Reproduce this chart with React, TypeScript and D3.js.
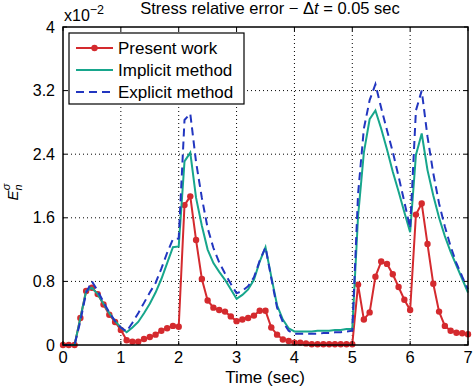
import * as d3 from "d3";

// sample times (sec)
const time = [
  0, 0.1, 0.2, 0.3, 0.4, 0.5, 0.6, 0.7, 0.8, 0.9,
  1, 1.1, 1.2, 1.3, 1.4, 1.5, 1.6, 1.7, 1.8, 1.9,
  2, 2.1, 2.2, 2.3, 2.4, 2.5, 2.6, 2.7, 2.8, 2.9,
  3, 3.1, 3.2, 3.3, 3.4, 3.5, 3.6, 3.7, 3.8, 3.9,
  4, 4.1, 4.2, 4.3, 4.4, 4.5, 4.6, 4.7, 4.8, 4.9,
  5, 5.1, 5.2, 5.3, 5.4, 5.5, 5.6, 5.7, 5.8, 5.9,
  6, 6.1, 6.2, 6.3, 6.4, 6.5, 6.6, 6.7, 6.8, 6.9,
  7,
];

// values in units of 1e-2
const presentWork = [
  0, 0, 0, 0.34, 0.68, 0.72, 0.64, 0.51, 0.38, 0.29,
  0.19, 0.06, 0.04, 0.04, 0.075, 0.1, 0.13, 0.18, 0.21, 0.24,
  0.23, 1.76, 1.87, 1.32, 0.83, 0.56, 0.47, 0.44, 0.42, 0.36,
  0.3, 0.32, 0.34, 0.37, 0.43, 0.43, 0.22, 0.13, 0.07, 0.05,
  0.03, 0.03, 0.02, 0.01, 0.01, 0.01, 0.01, 0.01, 0.01, 0.01,
  0.01, 0.76, 0.32, 0.41, 0.86, 1.05, 1.02, 0.89, 0.73, 0.57,
  0.44, 1.64, 1.78, 1.27, 0.77, 0.42, 0.24, 0.18, 0.155, 0.147,
  0.135,
];

const implicitMethod = [
  0, 0, 0, 0.34, 0.68, 0.72, 0.64, 0.52, 0.4, 0.3,
  0.22, 0.16, 0.22, 0.29, 0.4, 0.52, 0.66, 0.83, 1.03, 1.23,
  1.24, 2.31, 2.42, 1.85, 1.5, 1.2, 1.03, 0.92, 0.82, 0.7,
  0.58, 0.63, 0.7, 0.82, 1.05, 1.23, 0.86, 0.5, 0.32, 0.21,
  0.17, 0.17, 0.17, 0.17, 0.18, 0.18, 0.18, 0.19, 0.19, 0.2,
  0.2, 1.62, 2.42, 2.84, 2.95, 2.72, 2.46, 2.18, 1.93, 1.67,
  1.42, 2.39, 2.66, 2.2, 1.88, 1.6, 1.37, 1.17, 1.0, 0.83,
  0.66,
];

const explicitMethod = [
  0, 0, 0, 0.3, 0.66, 0.8, 0.68, 0.54, 0.41, 0.3,
  0.22, 0.17, 0.28, 0.4, 0.53, 0.66, 0.78, 0.96, 1.16, 1.33,
  1.34, 2.83, 2.91, 2.3, 1.85, 1.47, 1.22, 1.04, 0.9, 0.77,
  0.65, 0.68, 0.74, 0.85, 1.06, 1.23, 0.84, 0.47, 0.29, 0.18,
  0.14, 0.14, 0.14, 0.14, 0.14, 0.15, 0.15, 0.16, 0.16, 0.17,
  0.18, 1.9, 2.72, 3.08, 3.28, 2.98, 2.7, 2.43, 2.12, 1.8,
  1.47, 2.95, 3.2, 2.62, 2.16, 1.78, 1.49, 1.24, 1.03, 0.86,
  0.7,
];

const xTicks = [0, 1, 2, 3, 4, 5, 6, 7];
const yTicks = [0, 0.8, 1.6, 2.4, 3.2, 4];
const yTickLabels = ["0", "0.8", "1.6", "2.4", "3.2", "4"];
const legendLabels = ["Present work", "Implicit method", "Explicit method"];

const W = 474;
const H = 388;
const font = "'Liberation Sans', Arial, sans-serif";
const colors = { red: "#d42a2e", teal: "#17a68c", blue: "#2236c0" };

export default function App() {
  const left = 63, right = 468, top = 27, bottom = 345;

  const x = d3.scaleLinear().domain([0, 7]).range([left, right]);
  const y = d3.scaleLinear().domain([0, 4]).range([bottom, top]);

  const line = (vals: number[]) =>
    d3.line<number>()
      .x((_, i) => x(time[i]))
      .y((d) => y(d))(vals) as string;

  const tick = 4;

  return (
    <svg
      width={W}
      height={H}
      style={{ position: "absolute", left: 0, top: 0, background: "#fff" }}
      fontFamily={font}
    >
      <rect x={0} y={0} width={W} height={H} fill="#fff" />

      {/* grid */}
      {xTicks.slice(1, -1).map((t) => (
        <line key={"gx" + t} x1={x(t)} x2={x(t)} y1={top} y2={bottom}
          stroke="#000" strokeWidth={1} strokeDasharray="1,3" />
      ))}
      {yTicks.slice(1, -1).map((t) => (
        <line key={"gy" + t} x1={left} x2={right} y1={y(t)} y2={y(t)}
          stroke="#000" strokeWidth={1} strokeDasharray="1,3" />
      ))}

      {/* series */}
      <path d={line(presentWork)} fill="none" stroke={colors.red} strokeWidth={2} />
      {presentWork.map((v, i) => (
        <circle key={i} cx={x(time[i])} cy={y(v)} r={3.2} fill={colors.red} />
      ))}
      <path d={line(implicitMethod)} fill="none" stroke={colors.teal} strokeWidth={2} />
      <path d={line(explicitMethod)} fill="none" stroke={colors.blue} strokeWidth={2}
        strokeDasharray="8,5" />

      {/* box + ticks */}
      <rect x={left} y={top} width={right - left} height={bottom - top}
        fill="none" stroke="#000" strokeWidth={1.5} />
      {xTicks.map((t) => (
        <g key={"tx" + t}>
          <line x1={x(t)} x2={x(t)} y1={bottom} y2={bottom - tick} stroke="#000" />
          <line x1={x(t)} x2={x(t)} y1={top} y2={top + tick} stroke="#000" />
          <text x={x(t)} y={363} textAnchor="middle" fontSize={16.5}>{t}</text>
        </g>
      ))}
      {yTicks.map((t, i) => (
        <g key={"ty" + t}>
          <line x1={left} x2={left + tick} y1={y(t)} y2={y(t)} stroke="#000" />
          <line x1={right} x2={right - tick} y1={y(t)} y2={y(t)} stroke="#000" />
          <text x={55} y={y(t) + 5.5} textAnchor="end" fontSize={16}>{yTickLabels[i]}</text>
        </g>
      ))}

      {/* exponent */}
      <text x={64} y={21} fontSize={16}>
        x10<tspan dy={-7} fontSize={12.5}>−2</tspan>
      </text>

      {/* title */}
      <text x={270} y={14} textAnchor="middle" fontSize={16.5}>
        Stress relative error − Δ<tspan fontStyle="italic">t</tspan> = 0.05 sec
      </text>

      {/* axis labels */}
      <text x={265} y={383} textAnchor="middle" fontSize={17}>Time (sec)</text>
      <text transform="translate(18,192) rotate(-90)" fontSize={15} textAnchor="middle">
        <tspan fontStyle="italic">E</tspan>
        <tspan dy={4} fontSize={11} fontStyle="italic">n</tspan>
        <tspan dx={-6} dy={-12} fontSize={11} fontStyle="italic">σ</tspan>
      </text>

      {/* legend */}
      <rect x={69} y={33} width={175} height={71} fill="#fff" stroke="#000" strokeWidth={1.2} />
      {legendLabels.map((label, i) => {
        const ly = 48 + i * 22;
        const c = i === 0 ? colors.red : i === 1 ? colors.teal : colors.blue;
        return (
          <g key={label}>
            <line x1={76} x2={113} y1={ly} y2={ly} stroke={c} strokeWidth={2}
              strokeDasharray={i === 2 ? "8,5" : undefined} />
            {i === 0 && <circle cx={94.5} cy={ly} r={3.2} fill={c} />}
            <text x={118} y={ly + 6} fontSize={17}>{label}</text>
          </g>
        );
      })}
    </svg>
  );
}
